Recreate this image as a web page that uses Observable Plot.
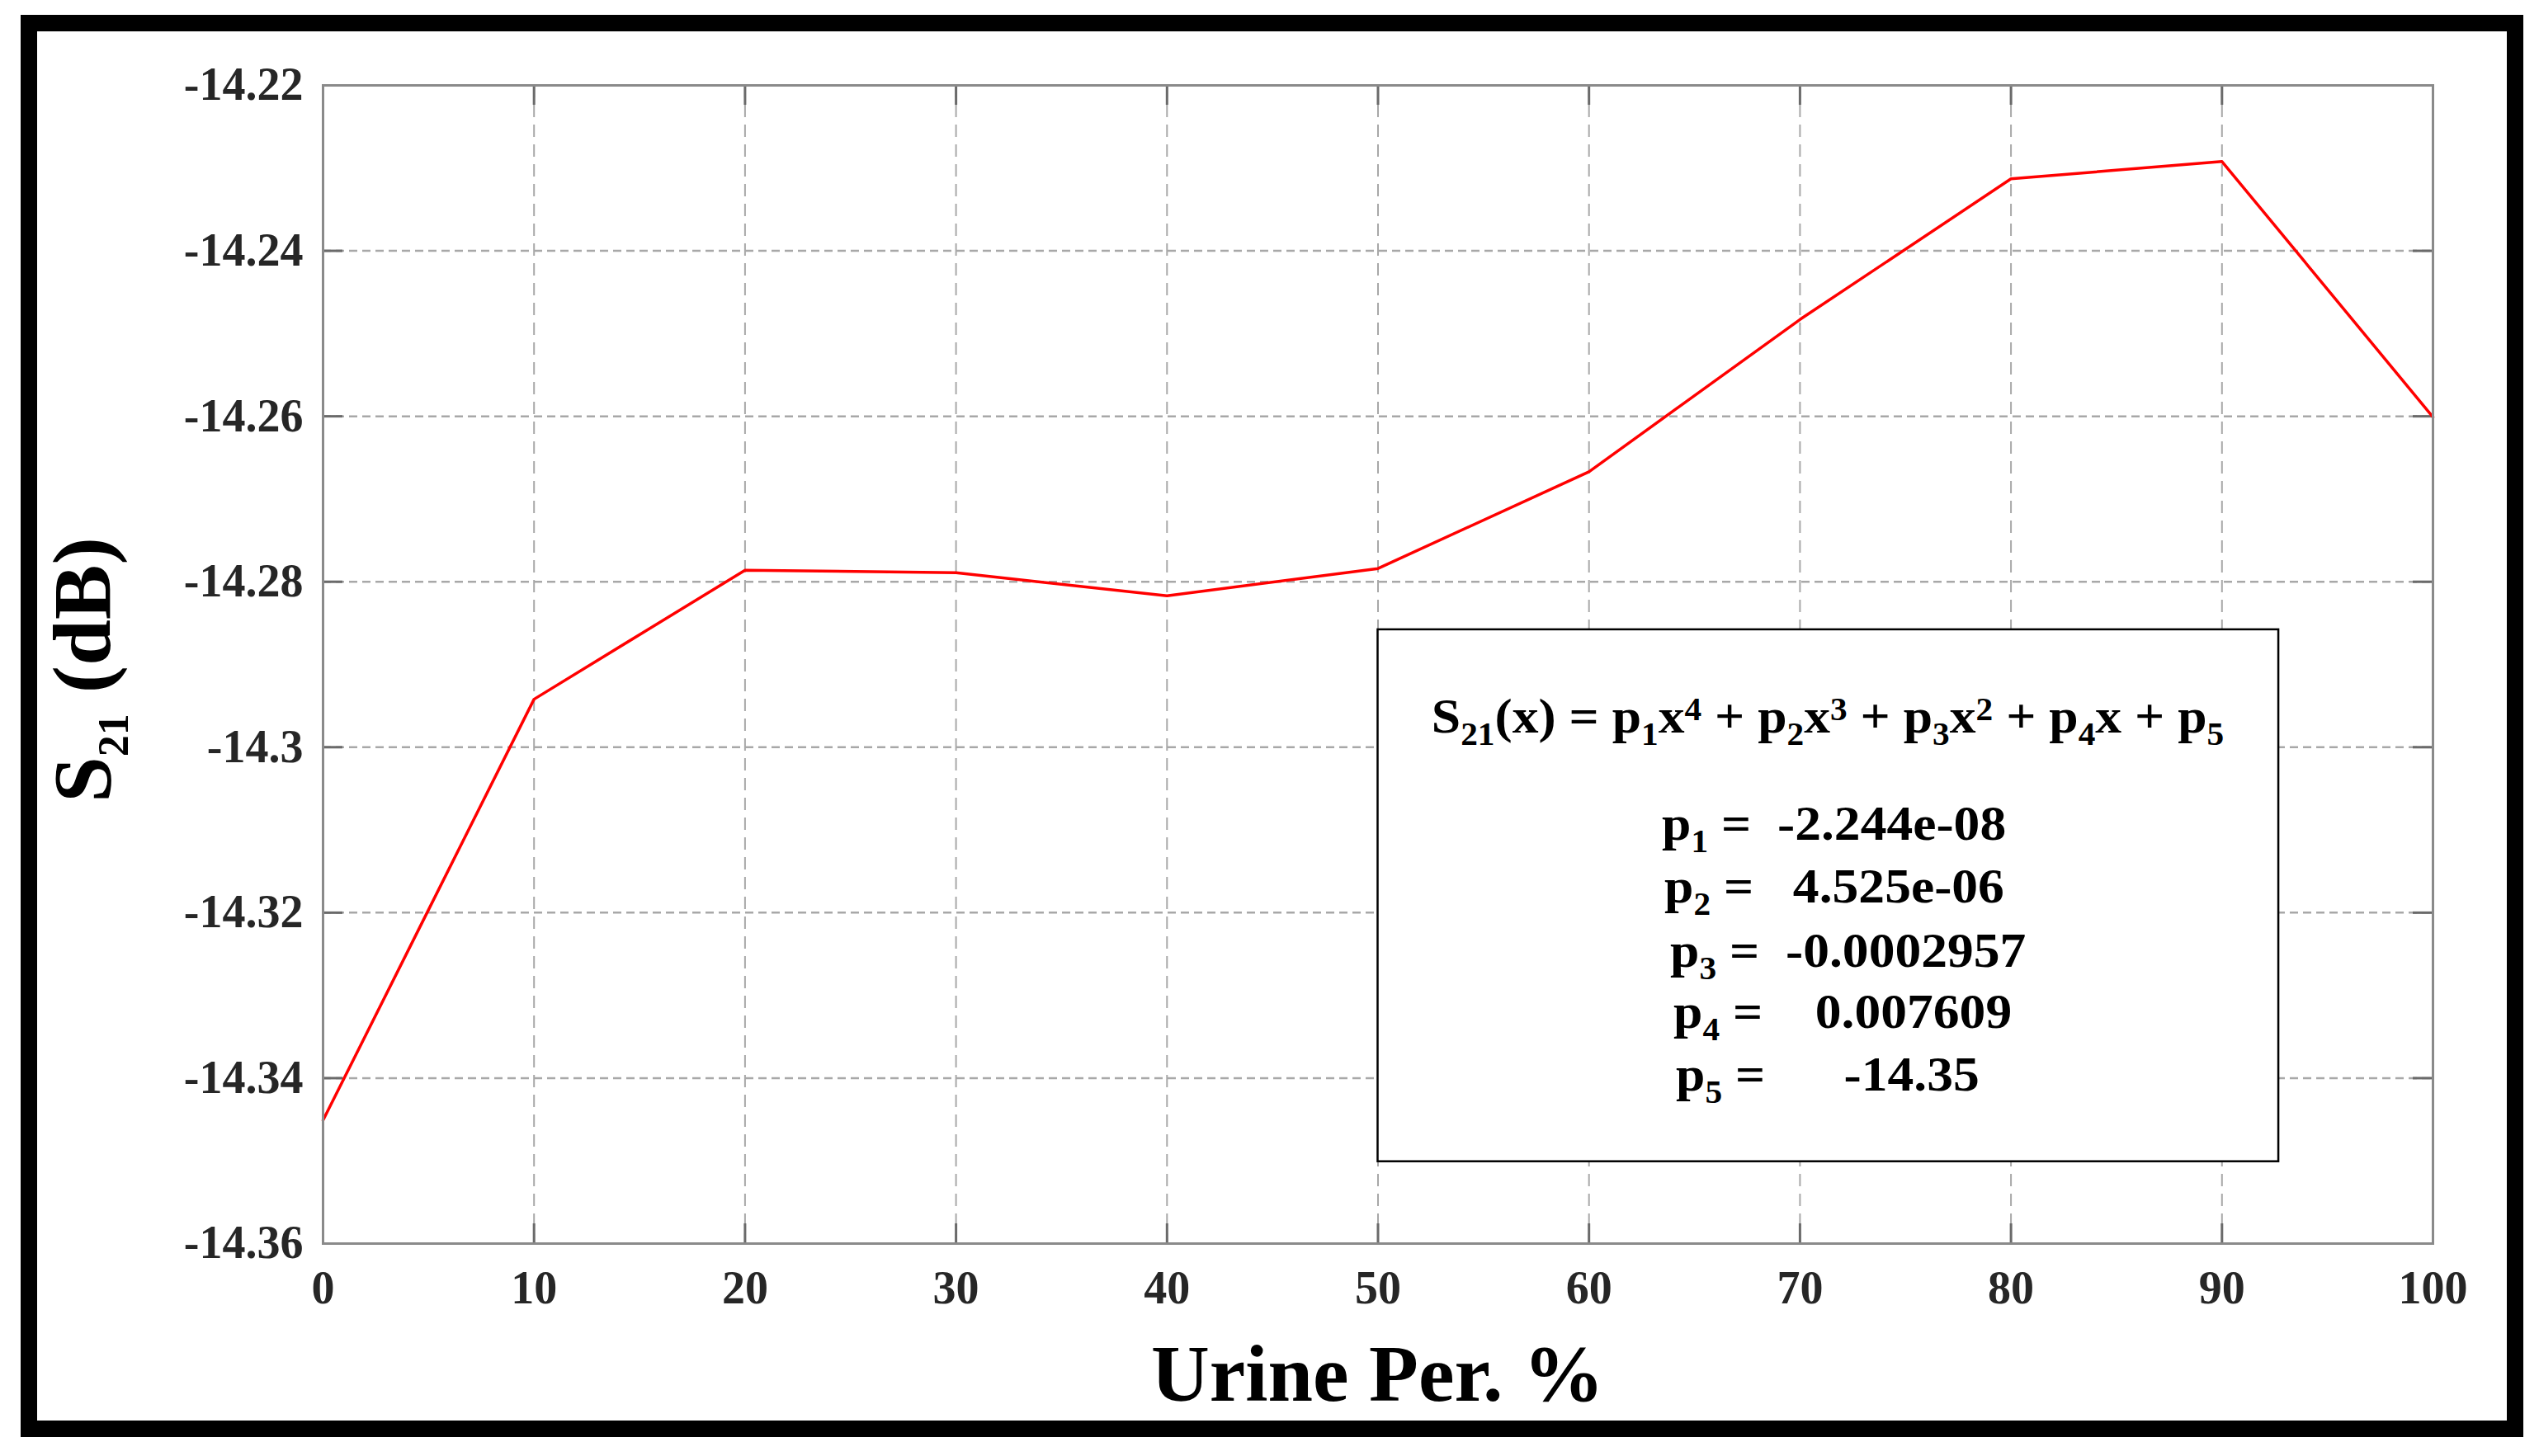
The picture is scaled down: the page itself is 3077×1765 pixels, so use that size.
<!DOCTYPE html>
<html>
<head>
<meta charset="utf-8">
<script src="https://cdn.jsdelivr.net/npm/d3@7"></script>
<script src="https://cdn.jsdelivr.net/npm/@observablehq/plot@0.6"></script>
<style>
html, body { margin: 0; padding: 0; background: #fff; overflow: hidden; }
#chart { width: 3077px; height: 1765px; }
</style>
</head>
<body>
<div id="chart"></div>
<script>
// ---- data ----
const urinePct = [0, 10, 20, 30, 40, 50, 60, 70, 80, 90, 100];
const s21dB = [-14.3451, -14.2942, -14.2786, -14.2789, -14.2817, -14.2784, -14.2667, -14.2483, -14.2313, -14.2292, -14.2601];

const xTickValues = [0, 10, 20, 30, 40, 50, 60, 70, 80, 90, 100];
const xTickLabels = ["0", "10", "20", "30", "40", "50", "60", "70", "80", "90", "100"];
const yTickValues = [-14.22, -14.24, -14.26, -14.28, -14.3, -14.32, -14.34, -14.36];
const yTickLabels = ["-14.22", "-14.24", "-14.26", "-14.28", "-14.3", "-14.32", "-14.34", "-14.36"];

const xLabel = "Urine Per. %";
const yLabelMain = "S";
const yLabelSub = "21";
const yLabelRest = " (dB)";

// fit annotation text
const coefIndex = ["1", "2", "3", "4", "5"];
const coefGap = ["  ", "   ", "  ", "    ", "      "];
const coefValue = ["-2.244e-08", "4.525e-06", "-0.0002957", "0.007609", "-14.35"];
// legend box corners in data units (annotation anchor)
const legendBoxX = [50, 92.69];
const legendBoxY = [-14.2858, -14.3501];

// ---- layout ----
const W = 3077, H = 1765;
const mL = 391, mR = 129, mT = 103, mB = 258;
const plotW = W - mL - mR, plotH = H - mT - mB;
const tickLen = 24;
const FONT = "'Liberation Serif', 'Times New Roman', Times, serif";

const rows = urinePct.map((x, i) => ({x, y: s21dB[i]}));
const fmtX = d => xTickLabels[xTickValues.indexOf(d)];
const fmtY = d => yTickLabels[yTickValues.indexOf(d)];

const plot = Plot.plot({
  width: W, height: H,
  marginLeft: mL, marginRight: mR, marginTop: mT, marginBottom: mB,
  style: {fontFamily: FONT, background: "white", overflow: "visible"},
  x: {domain: [0, 100], label: null},
  y: {domain: [-14.36, -14.22], label: null},
  marks: [
    Plot.ruleY(yTickValues, {stroke: "#a8a8a8", strokeWidth: 2.5, strokeDasharray: "10,6"}),
    Plot.ruleX(xTickValues, {stroke: "#a8a8a8", strokeWidth: 2, strokeDasharray: "15,9"}),
    // inward tick marks on all four sides
    Plot.ruleX(xTickValues, {insetTop: plotH - tickLen, stroke: "#6a6a6a", strokeWidth: 3}),
    Plot.ruleX(xTickValues, {insetBottom: plotH - tickLen, stroke: "#6a6a6a", strokeWidth: 3}),
    Plot.ruleY(yTickValues, {insetRight: plotW - tickLen, stroke: "#6a6a6a", strokeWidth: 3}),
    Plot.ruleY(yTickValues, {insetLeft: plotW - tickLen, stroke: "#6a6a6a", strokeWidth: 3}),
    Plot.line(rows, {x: "x", y: "y", stroke: "#ff0000", strokeWidth: 3.5}),
    Plot.frame({stroke: "#8a8a8a", strokeWidth: 3}),
    Plot.rect([0], {x1: () => legendBoxX[0], x2: () => legendBoxX[1], y1: () => legendBoxY[0], y2: () => legendBoxY[1], fill: "white", stroke: "black", strokeWidth: 2.5}),
    Plot.axisX({ticks: xTickValues, tickFormat: fmtX, tickSize: 0, tickPadding: 33, fontSize: 56, fontWeight: "bold", fill: "#262626", label: null}),
    Plot.axisY({ticks: yTickValues, tickFormat: fmtY, tickSize: 0, tickPadding: 24, fontSize: 56, fontWeight: "bold", fill: "#262626", label: null})
  ]
});

document.getElementById("chart").appendChild(plot);
const svg = d3.select(plot);

// outer thick black border
svg.append("rect")
  .attr("x", 35).attr("y", 28).attr("width", 3013).attr("height", 1704)
  .attr("fill", "none").attr("stroke", "black").attr("stroke-width", 20);

// rich text helper: tokens [text, level] level -1 sub, 1 sup, 0 normal
function richText(parent, tokens, o) {
  const t = parent.append("text")
    .attr("transform", `translate(${o.x},${o.y})${o.rotate ? ` rotate(${o.rotate})` : ""} scale(${o.sx || 1},1)`)
    .attr("text-anchor", o.anchor)
    .attr("font-family", FONT)
    .attr("font-weight", "bold")
    .attr("font-size", o.size)
    .attr("fill", "black")
    .attr("xml:space", "preserve")
    .style("white-space", "pre");
  let cur = 0;
  tokens.forEach(([s, lvl]) => {
    const target = lvl === -1 ? o.subShift : lvl === 1 ? -o.supShift : 0;
    t.append("tspan")
      .attr("dy", target - cur)
      .attr("font-size", lvl ? o.subSize : o.size)
      .text(s);
    cur = target;
  });
  return t;
}

// y label
richText(svg, [[yLabelMain, 0], [yLabelSub, -1], [yLabelRest, 0]],
  {x: 133, y: 812, rotate: -90, anchor: "middle", size: 100, subSize: 52, subShift: 22, supShift: 0});

// x label
svg.append("text")
  .attr("x", mL + plotW / 2).attr("y", 1698)
  .attr("text-anchor", "middle")
  .attr("font-family", FONT).attr("font-weight", "bold").attr("font-size", 98)
  .attr("fill", "black")
  .text(xLabel);

// equation
const eqTokens = [["S", 0], ["21", -1], ["(x) = p", 0], ["1", -1], ["x", 0], ["4", 1],
  [" + p", 0], ["2", -1], ["x", 0], ["3", 1], [" + p", 0], ["3", -1], ["x", 0], ["2", 1],
  [" + p", 0], ["4", -1], ["x + p", 0], ["5", -1]];
richText(svg, eqTokens, {x: 2215, y: 888, anchor: "middle", size: 60, sx: 1.06, subSize: 39, subShift: 15, supShift: 15});

const paramLeft = [2014, 2017, 2024, 2028, 2031];
const paramBase = [1018, 1094, 1172, 1246, 1322];
coefIndex.forEach((k, i) => {
  richText(svg, [["p", 0], [k, -1], [" =" + coefGap[i] + coefValue[i], 0]],
    {x: paramLeft[i], y: paramBase[i], anchor: "start", size: 60, sx: 1.06, subSize: 39, subShift: 15, supShift: 15});
});
</script>
</body>
</html>
